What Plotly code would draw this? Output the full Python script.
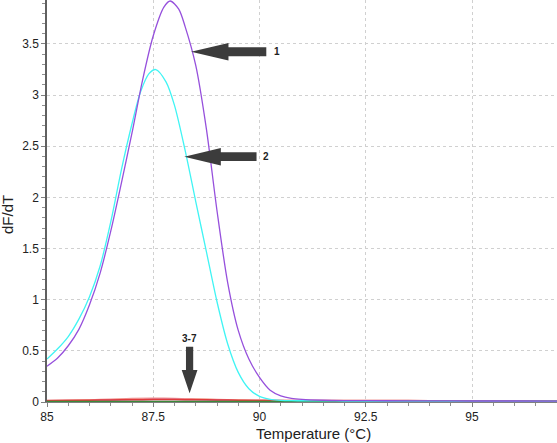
import plotly.graph_objects as go

# melt curve readings (temperature in degC, dF/dT)
temp1 = [85, 85.25, 85.5, 85.75, 86, 86.25, 86.5, 86.75, 87, 87.25, 87.5, 87.75, 87.9,
         88.1, 88.25, 88.5, 88.75, 89, 89.25, 89.5, 89.75, 90, 90.25, 90.5, 90.75,
         91, 91.5, 92, 93, 94, 95, 96, 97]
sample1 = [0.35, 0.43, 0.55, 0.71, 0.95, 1.26, 1.67, 2.14, 2.63, 3.15, 3.58, 3.86, 3.92,
           3.84, 3.67, 3.29, 2.67, 1.87, 1.17, 0.70, 0.42, 0.24, 0.115, 0.06, 0.035,
           0.025, 0.017, 0.014, 0.012, 0.011, 0.010, 0.010, 0.009]

temp2 = [85, 85.25, 85.5, 85.75, 86, 86.25, 86.5, 86.75, 87, 87.2, 87.4, 87.56, 87.8,
         88, 88.25, 88.5, 88.75, 89, 89.25, 89.5, 89.75, 90, 90.25, 90.5, 90.75,
         91, 91.5, 92, 93, 94, 95, 96, 97]
sample2 = [0.42, 0.52, 0.64, 0.81, 1.03, 1.33, 1.76, 2.27, 2.72, 3.03, 3.21, 3.25, 3.13,
           2.90, 2.46, 1.96, 1.47, 0.98, 0.57, 0.29, 0.13, 0.055, 0.026, 0.016, 0.013,
           0.012, 0.011, 0.010, 0.009, 0.009, 0.008, 0.008, 0.008]

temp_low = [85, 85.5, 86, 86.5, 87, 87.5, 88, 88.5, 89, 89.5, 90, 91, 92, 93, 94, 95, 96, 97]
sample3 = [0.015, 0.016, 0.018, 0.020, 0.022, 0.024, 0.024, 0.022, 0.020, 0.018,
           0.016, 0.015, 0.014, 0.014, 0.013, 0.013, 0.013, 0.012]
sample4 = [0.012, 0.015, 0.020, 0.027, 0.033, 0.036, 0.035, 0.030, 0.024, 0.018,
           0.014, 0.011, 0.010, 0.010, 0.009, 0.009, 0.009, 0.009]
sample5 = [0.010, 0.013, 0.017, 0.023, 0.028, 0.031, 0.030, 0.026, 0.021, 0.016,
           0.012, 0.010, 0.009, 0.009, 0.008, 0.008, 0.008, 0.008]
sample6 = [0.008, 0.010, 0.013, 0.017, 0.021, 0.024, 0.024, 0.021, 0.017, 0.013,
           0.010, 0.008, 0.008, 0.007, 0.007, 0.007, 0.007, 0.007]
sample7 = [0.004, 0.004, 0.005, 0.005, 0.006, 0.006, 0.006, 0.006, 0.005, 0.005,
           0.004, 0.004, 0.004, 0.004, 0.004, 0.004, 0.004, 0.004]

x_ticks = [85, 87.5, 90, 92.5, 95]
x_labels = ["85", "87.5", "90", "92.5", "95"]
y_ticks = [0, 0.5, 1, 1.5, 2, 2.5, 3, 3.5]
y_labels = ["0", "0.5", "1", "1.5", "2", "2.5", "3", "3.5"]

fig = go.Figure()

low_colors = ["#e8b060", "#f09090", "#c070c0", "#e03a3a", "#3a8a3a"]
for vals, col in zip([sample5, sample4, sample6, sample3, sample7], low_colors):
    fig.add_trace(go.Scatter(x=temp_low, y=vals, mode="lines",
                             line=dict(color=col, width=1.5, shape="spline")))

fig.add_trace(go.Scatter(x=temp2, y=sample2, mode="lines",
                         line=dict(color="#40f4f4", width=1.3, shape="spline", smoothing=0.8)))
fig.add_trace(go.Scatter(x=temp1, y=sample1, mode="lines",
                         line=dict(color="#9650dc", width=1.3, shape="spline", smoothing=0.8)))

arrow_col = "#3c3c3c"


def h_arrow(tip_x, head_x, tail_x, yc, hh, sh):
    return ("M {0},{1} L {2},{3} L {2},{4} L {5},{4} L {5},{6} L {2},{6} L {2},{7} Z"
            .format(tip_x, yc, head_x, yc + hh, yc + sh, tail_x, yc - sh, yc - hh))


shapes = [
    dict(type="path", xref="x", yref="y", fillcolor=arrow_col, line=dict(width=0),
         path=h_arrow(88.39, 89.27, 90.16, 3.424, 0.085, 0.043)),
    dict(type="path", xref="x", yref="y", fillcolor=arrow_col, line=dict(width=0),
         path=h_arrow(88.23, 89.09, 89.93, 2.398, 0.085, 0.043)),
    dict(type="path", xref="x", yref="y", fillcolor=arrow_col, line=dict(width=0),
         path="M 88.355,0.085 L 88.17,0.313 L 88.27,0.313 L 88.27,0.54 "
              "L 88.44,0.54 L 88.44,0.313 L 88.54,0.313 Z"),
]

label_font = dict(family="Arial", size=10, color="#222222")
annotations = [
    dict(x=90.40, y=3.424, text="<b>1</b>", showarrow=False, font=label_font, xanchor="center"),
    dict(x=90.16, y=2.398, text="<b>2</b>", showarrow=False, font=label_font, xanchor="center"),
    dict(x=88.36, y=0.623, text="<b>3-7</b>", showarrow=False, font=label_font, xanchor="center"),
    # axis titles placed as in the reference
    dict(x=(313 - 47) / 510, y=-31 / 402, xref="paper", yref="paper",
         text="Temperature (°C)", showarrow=False, font=dict(size=15),
         xanchor="center", yanchor="middle"),
    dict(x=-39 / 510, y=(402 - 215) / 402, xref="paper", yref="paper",
         text="dF/dT", showarrow=False, textangle=-90, font=dict(size=15),
         xanchor="center", yanchor="middle"),
]

fig.update_layout(
    width=557, height=443,
    margin=dict(l=47, r=0, t=0, b=41),
    paper_bgcolor="white", plot_bgcolor="white",
    showlegend=False,
    shapes=shapes, annotations=annotations,
    font=dict(family="Arial", size=12, color="#222222"),
    xaxis=dict(range=[85, 97], tickvals=x_ticks, ticktext=x_labels,
               showgrid=True, gridcolor="#d0d0d0", griddash="dot", gridwidth=1,
               showline=True, linecolor="#808080", linewidth=1,
               ticks="outside", ticklen=4, tickcolor="#808080",
               minor=dict(dtick=0.5, ticks="outside", ticklen=3, tickcolor="#909090", showgrid=False),
               zeroline=False, automargin=False),
    yaxis=dict(range=[0, 3.93], tickvals=y_ticks, ticktext=y_labels,
               showgrid=True, gridcolor="#d0d0d0", griddash="dot", gridwidth=1,
               showline=True, linecolor="#606060", linewidth=1.5,
               ticks="outside", ticklen=4, tickcolor="#808080",
               minor=dict(dtick=0.1, ticks="outside", ticklen=3, tickcolor="#909090", showgrid=False),
               zeroline=False, automargin=False),
)

# drop the page's default body margin so the figure sits flush in the window
fig.write_html("out.html", config={"displayModeBar": False},
               post_script="document.body.style.margin='0';")
